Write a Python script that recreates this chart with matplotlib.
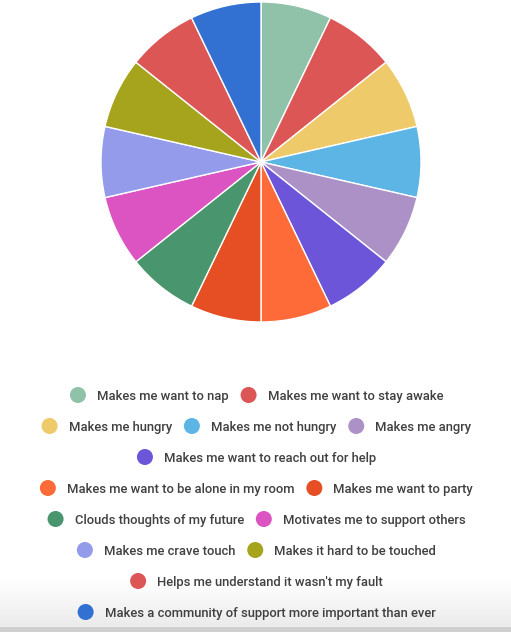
import matplotlib
matplotlib.use("Agg")
import matplotlib.pyplot as plt
import numpy as np
from matplotlib.patches import Circle

labels = [
    "Makes me want to nap",
    "Makes me want to stay awake",
    "Makes me hungry",
    "Makes me not hungry",
    "Makes me angry",
    "Makes me want to reach out for help",
    "Makes me want to be alone in my room",
    "Makes me want to party",
    "Clouds thoughts of my future",
    "Motivates me to support others",
    "Makes me crave touch",
    "Makes it hard to be touched",
    "Helps me understand it wasn't my fault",
    "Makes a community of support more important than ever",
]
values = [1] * 14
colors = ["#8fc2a8", "#dc5656", "#efca6b", "#5db5e5", "#ab91c6", "#6c55d9",
          "#fe6a38", "#e54f23", "#49956e", "#db54c1", "#939bea", "#a6a31d",
          "#dc5656", "#3271d1"]
legend_rows = [[0, 1], [2, 3, 4], [5], [6, 7], [8, 9], [10, 11], [12], [13]]

W, H = 511, 632
DPI = 100
fig = plt.figure(figsize=(W / DPI, H / DPI), dpi=DPI)
fig.patch.set_facecolor("white")
plt.rcParams["font.family"] = ["Roboto", "DejaVu Sans"]

# background gradient at bottom
bg = fig.add_axes([0, 0, 1, 1], zorder=-10)
bg.set_xlim(0, W)
bg.set_ylim(H, 0)
bg.axis("off")
grad = np.linspace(0, 1, 100).reshape(-1, 1)
cmap = matplotlib.colors.LinearSegmentedColormap.from_list("g", ["#ffffff", "#ebebeb"])
bg.add_patch(matplotlib.patches.Rectangle((0, 627), W, 6, color="#cfcfcf", lw=0))
bg.imshow(grad, extent=[0, W, 627, 580], cmap=cmap, aspect="auto", origin="upper")

# pie
cx, cy, r = 261, 162, 160
ax = fig.add_axes([(cx - r) / W, 1 - (cy + r) / H, 2 * r / W, 2 * r / H])
ax.pie(values, colors=colors, startangle=90, counterclock=False,
       wedgeprops=dict(edgecolor="white", linewidth=1))
ax.set_aspect("auto")
ax.set_xlim(-1, 1)
ax.set_ylim(-1, 1)

# legend
lax = fig.add_axes([0, 0, 1, 1])
lax.set_xlim(0, W)
lax.set_ylim(H, 0)
lax.axis("off")
fig.canvas.draw()
renderer = fig.canvas.get_renderer()
fs = 9.35
tc = "#404040"
fw = "medium"
row_y0, row_dy = 395, 31
mr = 8
gap_mt = 11
gap_item = 12
for ri, row in enumerate(legend_rows):
    y = row_y0 + ri * row_dy
    widths = []
    for i in row:
        t = lax.text(0, y, labels[i], fontsize=fs, fontweight=fw, va="center")
        bb = t.get_window_extent(renderer)
        widths.append(bb.width)
        t.remove()
    item_w = [2 * mr + gap_mt + w for w in widths]
    total = sum(item_w) + gap_item * (len(row) - 1)
    x = W / 2 - total / 2 + 1
    for i, w, iw in zip(row, widths, item_w):
        lax.add_patch(Circle((x + mr, y), mr, color=colors[i], lw=0))
        lax.text(x + 2 * mr + gap_mt, y, labels[i], fontsize=fs, color=tc,
                 fontweight=fw, va="center_baseline")
        x += iw + gap_item

fig.savefig("out.png", dpi=DPI)
